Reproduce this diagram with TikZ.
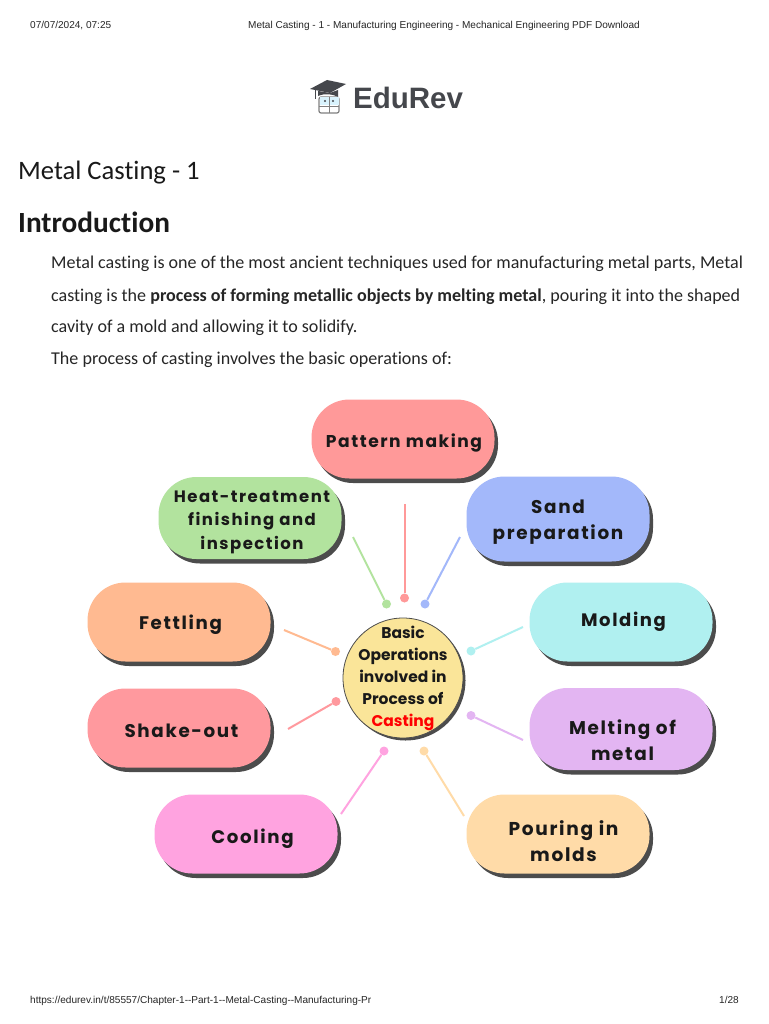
\documentclass[tikz,border=0pt]{standalone}
\usepackage{fontspec}
\setmainfont{Carlito}[Ligatures=NoCommon]
\newfontfamily\popfont{Poppins}
\newfontfamily\headfont{Liberation Sans}
\usetikzlibrary{shadows}
\newlength{\du}
\setlength{\du}{1pt}
\newcommand{\opfont}[2]{\fontsize{#1}{#2}\popfont\bfseries\addfontfeatures{LetterSpace=9}}
\definecolor{darkshadow}{rgb}{0.30, 0.30, 0.30}
\definecolor{patterncolor}{rgb}{1.00, 0.60, 0.60}
\definecolor{sandcolor}{rgb}{0.64, 0.72, 0.98}
\definecolor{heatcolor}{rgb}{0.70, 0.89, 0.62}
\definecolor{fettlingcolor}{rgb}{1.00, 0.73, 0.57}
\definecolor{moldingcolor}{rgb}{0.69, 0.94, 0.94}
\definecolor{shakecolor}{rgb}{1.00, 0.60, 0.62}
\definecolor{meltingcolor}{rgb}{0.89, 0.71, 0.95}
\definecolor{coolingcolor}{rgb}{1.00, 0.64, 0.88}
\definecolor{pouringcolor}{rgb}{1.00, 0.86, 0.66}
\definecolor{hubcolor}{rgb}{0.98, 0.90, 0.60}
\definecolor{logocolor}{rgb}{0.27, 0.28, 0.30}
\tikzset{
  opbox/.style={draw=none, rectangle, rounded corners=38\du, inner sep=0pt,
    minimum width=183\du, minimum height=79\du,
    general shadow={fill=darkshadow, shadow xshift=3.5\du, shadow yshift=-4.5\du}},
  optext/.style={inner sep=0pt, align=center, text=black!90},
  hub/.style={circle, draw=darkshadow, line width=0.8\du, fill=hubcolor, inner sep=0pt,
    minimum size=120\du,
    general shadow={fill=darkshadow, shadow xshift=2.5\du, shadow yshift=-2.5\du}},
  hubtext/.style={inner sep=0pt, align=center, text=black!90,
    font=\fontsize{15.5}{22}\popfont\bfseries},
  tipdot/.style={circle, fill=#1, draw=none, inner sep=0pt, minimum size=9\du},
  spoke/.style={draw=#1, line width=2\du},
  plain/.style={anchor=base west, inner sep=0pt, font=\fontsize{18.05}{20}\selectfont, text=black!85},
  pagehead/.style={anchor=base west, inner sep=0pt, font=\fontsize{10.05}{12}\headfont, text=black!85},
}
\begin{document}
\begin{tikzpicture}[x=1\du,y=-1\du]
\useasboundingbox (0,0) rectangle (768,1024);
\fill[white] (0,0) rectangle (768,1024);
% page head and foot
\node[pagehead] (stamp) at (30,29) {07/07/2024, 07:25};
\node[pagehead] (pagetitle) at (248,29) {Metal Casting - 1 - Manufacturing Engineering - Mechanical Engineering PDF Download};
\node[pagehead] (pageurl) at (30,1003) {https://edurev.in/t/85557/Chapter-1--Part-1--Metal-Casting--Manufacturing-Pr};
\node[pagehead] (pagenum) at (719,1003) {1/28};
% logo
\fill[logocolor] (310,89) -- (327,80) -- (346,84) -- (330,93) -- cycle;
\fill[logocolor] (318,91) -- (318,96) .. controls (325,93) and (333,94) .. (338,97) -- (338,90) -- (330,93) -- cycle;
\draw[logocolor, line width=0.7\du] (315,88) -- (315,99);
\draw[gray, line width=1.2\du, rounded corners=2\du] (319,97) rectangle (339,113);
\fill[cyan!15] (319.5,97.5) rectangle (328.5,105.5);
\fill[cyan!15] (329.5,97.5) rectangle (338.5,105.5);
\draw[gray, line width=0.9\du] (329,97) -- (329,113) (319,106) -- (339,106);
\fill[logocolor] (325,101) circle (1.2) (333,101) circle (1.2);
\node[anchor=base west, inner sep=0pt, font=\fontsize{29.5}{32}\headfont\bfseries, text=logocolor] (logo) at (353,109) {EduRev};
% text
\node[anchor=base west, inner sep=0pt, font=\fontsize{26.6}{30}\selectfont, text=black!90] (doctitle) at (18,180) {Metal Casting - 1};
\node[anchor=base west, inner sep=0pt, font=\fontsize{29.3}{32}\selectfont\bfseries, text=black!90] (dochead) at (18,233) {Introduction};
\node[plain] (lineA) at (51,268.5) {Metal casting is one of the most ancient techniques used for manufacturing metal parts, Metal};
\node[plain] (lineB) at (51,301) {casting is the \textbf{process of forming metallic objects by melting metal}, pouring it into the shaped};
\node[plain] (lineC) at (51,332.5) {cavity of a mold and allowing it to solidify.};
\node[plain] (lineD) at (51,364.5) {The process of casting involves the basic operations of:};
% boxes
\node[opbox, fill=patterncolor] (pattern) at (403,439) {};
\node[opbox, fill=sandcolor, minimum height=85\du] (sand) at (558,519) {};
\node[opbox, fill=heatcolor, minimum height=82\du] (heat) at (250,518) {};
\node[opbox, fill=fettlingcolor] (fettling) at (179,622) {};
\node[opbox, fill=moldingcolor] (molding) at (621,622) {};
\node[opbox, fill=shakecolor] (shake) at (179,728) {};
\node[opbox, fill=meltingcolor, minimum height=82\du] (melting) at (621,729) {};
\node[opbox, fill=coolingcolor] (cooling) at (246,834) {};
\node[opbox, fill=pouringcolor] (pouring) at (558,834) {};
\node[hub] (basic) at (403,678) {};
% labels
\node[optext, font=\opfont{17.1}{24}] (patterntext) at (404,443) {Pattern making};
\node[optext, font=\opfont{18.4}{26}] (sandtext) at (558,522) {Sand\\preparation};
\node[optext, font=\opfont{16.5}{23.5}] (heattext) at (252,522) {Heat-treatment\\finishing and\\inspection};
\node[optext, font=\opfont{18.2}{24}] (fettlingtext) at (180.5,625) {Fettling};
\node[optext, font=\opfont{18}{24}] (moldingtext) at (623.5,622) {Molding};
\node[optext, font=\opfont{18.3}{24}] (shaketext) at (181.5,731) {Shake-out};
\node[optext, font=\opfont{18.4}{26}] (meltingtext) at (622.5,740) {Melting of\\metal};
\node[optext, font=\opfont{18.2}{24}] (coolingtext) at (252.5,839) {Cooling};
\node[optext, font=\opfont{18.6}{26}] (pouringtext) at (563.5,841) {Pouring in\\molds};
\node[hubtext] (basictext) at (403,678.7) {Basic\\Operations\\involved in\\Process of\\\textcolor{red}{Casting}};
% dots
\node[tipdot=patterncolor] (dotpattern) at (404.5,598) {};
\node[tipdot=sandcolor] (dotsand) at (425,604) {};
\node[tipdot=heatcolor] (dotheat) at (386.5,604) {};
\node[tipdot=fettlingcolor] (dotfettling) at (335.5,651.5) {};
\node[tipdot=moldingcolor] (dotmolding) at (471,651) {};
\node[tipdot=shakecolor] (dotshake) at (336,701.5) {};
\node[tipdot=meltingcolor] (dotmelting) at (471,715.5) {};
\node[tipdot=coolingcolor] (dotcooling) at (384,751) {};
\node[tipdot=pouringcolor] (dotpouring) at (424,751) {};
% free ends
\coordinate (endpattern) at (404.5,504);
\coordinate (endsand) at (460,537);
\coordinate (endheat) at (353,537);
\coordinate (endfettling) at (284,630);
\coordinate (endmolding) at (523,627);
\coordinate (endshake) at (288,729);
\coordinate (endmelting) at (523,740);
\coordinate (endcooling) at (341,814);
\coordinate (endpouring) at (464,816);
\foreach \opname/\opcolor in {pattern/patterncolor,sand/sandcolor,heat/heatcolor,fettling/fettlingcolor,molding/moldingcolor,shake/shakecolor,melting/meltingcolor,cooling/coolingcolor,pouring/pouringcolor}
  \draw[spoke=\opcolor] (end\opname) -- (dot\opname);
\end{tikzpicture}
\end{document}
